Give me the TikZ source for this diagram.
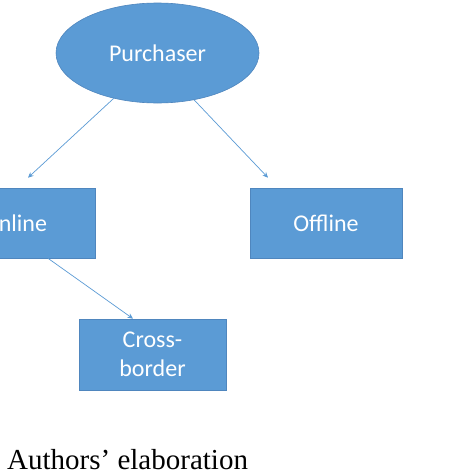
\documentclass[tikz,border=0pt]{standalone}
\usepackage{fontspec}
\setsansfont{Carlito}
\newfontfamily\capfont{Liberation Serif}
\usetikzlibrary{arrows.meta,shapes.geometric}
\definecolor{ofblue}{HTML}{5B9BD5}
\definecolor{ofedge}{HTML}{4F86BE}
\tikzset{
  shapebox/.style={draw=ofedge,line width=0.6pt,fill=ofblue,text=white,
    font=\sffamily\fontsize{24}{29}\selectfont,inner sep=0pt,align=center},
  rectbox/.style={shapebox,rectangle,minimum width=152pt,minimum height=70pt},
  linkarrow/.style={draw=ofblue,line width=0.7pt,-{Stealth[length=5.5pt,width=5pt]}}
}
\begin{document}
\begin{tikzpicture}[x=1pt,y=-1pt]
\useasboundingbox (0,0) rectangle (474,474);
\clip (0,0) rectangle (474,474);
\fill[white] (0,0) rectangle (474,474);
\node[shapebox,ellipse,minimum width=203pt,minimum height=100pt] (p) at (157.5,53) {Purchaser};
\node[rectbox,minimum width=160pt] (on) at (15,223) {Online};
\node[rectbox] (off) at (326,223) {Offline};
\node[shapebox,rectangle,minimum width=147pt,minimum height=71pt] (cb) at (152.5,354.5) {Cross-\\border};
\node[anchor=base west,inner sep=0pt,font=\capfont\fontsize{29}{34}\selectfont] (cap) at (7,469) {Authors’ elaboration};
\draw[linkarrow] (p.226) -- ([xshift=13pt,yshift=10pt]on.north);
\draw[linkarrow] (p.308) -- ([xshift=-58pt,yshift=10pt]off.north);
\draw[linkarrow] ([xshift=33pt]on.south) -- ([xshift=-19.5pt]cb.north);
\end{tikzpicture}
\end{document}
